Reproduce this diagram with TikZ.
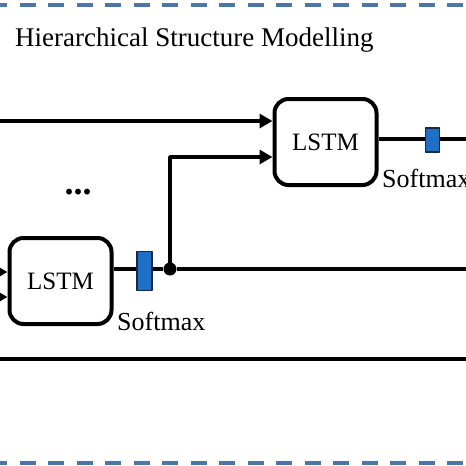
\documentclass[tikz,border=0pt]{standalone}
\usepackage{fontspec}
\setmainfont{Liberation Serif}
\usetikzlibrary{arrows.meta,positioning}
\definecolor{dashblue}{RGB}{74,118,168}
\definecolor{smfill}{RGB}{31,111,198}
\definecolor{smedge}{RGB}{26,40,70}
\tikzset{
	lstm/.style={draw,line width=4pt,rounded corners=14pt,minimum width=102pt,minimum height=86pt,inner sep=0pt,font=\fontsize{25}{28}\selectfont},
	smax/.style={draw=smedge,fill=smfill,line width=1.5pt,inner sep=0pt},
	wire/.style={line width=3.4pt},
	frame/.style={dashblue,line width=4pt,dash pattern=on 16pt off 12.5pt,dash phase=9pt},
	lbl/.style={anchor=base west,inner sep=0pt,font=\fontsize{26}{30}\selectfont},
}
\begin{document}
\begin{tikzpicture}[x=1pt,y=-1pt,line join=round,>={Triangle[length=13pt,width=14pt]}]
	\useasboundingbox (0,0) rectangle (466,466);
	% module frame
	\draw[frame] (0,5)--(466,5);
	\draw[frame] (0,463)--(466,463);
	\node[lbl,font=\fontsize{27}{30}\selectfont] (title) at (15,46) {Hierarchical Structure Modelling};
	% cells
	\node[lstm] (lstmA) at (60.5,281) {LSTM};
	\node[lstm] (lstmB) at (325.5,142) {LSTM};
	\node[lbl] (txtA) at (117,330) {Softmax};
	\node[lbl] (txtB) at (382,187) {Softmax};
	\node[circle,fill,inner sep=0pt,minimum size=13pt] (jn) at (170,269) {};
	\node[anchor=base,inner sep=0pt,font=\bfseries\fontsize{36}{40}\selectfont] (dots) at (78,194) {...};
	% free ends
	\coordinate (inA1) at (-20,272);
	\coordinate (inA2) at (-20,297);
	\coordinate (inB1) at (0,121);
	\coordinate (outA) at (466,269);
	\coordinate (outB) at (466,139);
	\coordinate (bot0) at (0,359);
	\coordinate (bot1) at (466,359);
	% connectors
	\draw[wire,->] (inA1)--(inA1 -| lstmA.west);
	\draw[wire,->] (inA2)--(inA2 -| lstmA.west);
	\draw[wire,->] (inB1)--(inB1 -| lstmB.west);
	\draw[wire] (lstmA.east |- jn)--(jn)--(outA);
	\draw[wire,->] (jn.center)--(jn.center |- 0,157)--(lstmB.west |- 0,157);
	\draw[wire] (lstmB.east |- outB)--(outB);
	% softmax blocks on top of the wires
	\node[smax,minimum width=15pt,minimum height=39pt] (smA) at (144.5,271) {};
	\node[smax,minimum width=14pt,minimum height=24pt] (smB) at (432.5,140) {};
	\draw[wire] (bot0)--(bot1);
\end{tikzpicture}
\end{document}
